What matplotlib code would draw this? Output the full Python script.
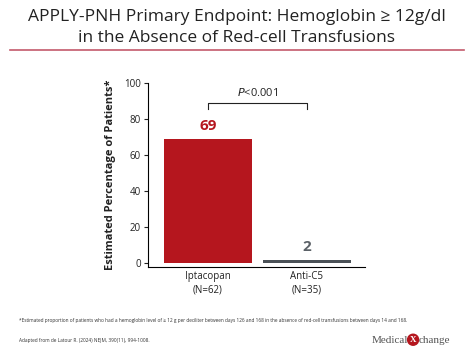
import matplotlib.pyplot as plt
import matplotlib.patches as mpatches

# data
groups = ['Iptacopan\n(N=62)', 'Anti-C5\n(N=35)']
values = [69, 2]
labels = ['69', '2']
colors = ['#b5161e', '#4b5157']
label_colors = ['#b5161e', '#5b6167']
yticks = [0, 20, 40, 60, 80, 100]

plt.rcParams['font.family'] = ['Open Sans', 'DejaVu Sans']

fig = plt.figure(figsize=(4.74, 3.55), dpi=100)

# title + rule
fig.text(0.5, 0.952, 'APPLY-PNH Primary Endpoint: Hemoglobin \u2265 12g/dl',
         ha='center', va='center', fontsize=12.5, color='#222222')
fig.text(0.5, 0.893, 'in the Absence of Red-cell Transfusions',
         ha='center', va='center', fontsize=12.5, color='#222222')
fig.add_artist(plt.Line2D([0.021, 0.979], [0.858, 0.858], color='#c45a6c', lw=1.2))

# axes: x 148..365 px, y 83..266.7 px
ax = fig.add_axes([148 / 474, 1 - 266.7 / 355, 217 / 474, (266.7 - 83) / 355])
x = range(len(values))
ax.bar(x, values, width=0.89, color=colors, zorder=2)
ax.set_xlim(-0.606, 1.586)
ax.set_ylim(-1.9, 100)
ax.set_yticks(yticks)
ax.set_xticks(list(x))
ax.set_xticklabels(groups, fontsize=7, color='#222222', linespacing=1.3)
ax.tick_params(axis='x', length=0, pad=3)
ax.tick_params(axis='y', labelsize=7, length=3, width=0.8, pad=2, colors='#222222')
for s in ['top', 'right']:
    ax.spines[s].set_visible(False)
ax.spines['left'].set_bounds(-1.9, 100)
ax.spines['left'].set_linewidth(0.8)
ax.spines['bottom'].set_linewidth(0.8)
ax.set_ylabel('Estimated Percentage of Patients*', fontsize=8, fontweight='bold',
              color='#222222', labelpad=6)

for i, (v, t) in enumerate(zip(values, labels)):
    ax.text(i, v + 3, t, ha='center', va='bottom', fontsize=11, fontweight='bold',
            color=label_colors[i])

# significance bracket
ax.plot([0, 0, 1, 1], [85.5, 89, 89, 85.5], color='#222222', lw=0.8, clip_on=False)
ax.text(0.5, 91, '$P$<0.001', ha='center', va='bottom', fontsize=8, color='#222222')

# footnotes
fig.text(0.04, 0.098, '*Estimated proportion of patients who had a hemoglobin level of \u2265 12 g per deciliter '
         'between days 126 and 168 in the absence of red-cell transfusions between days 14 and 168.',
         fontsize=3.4, color='#333333', va='center')
fig.text(0.04, 0.04, 'Adapted from de Latour R. (2024) NEJM, 390(11), 994-1008.',
         fontsize=3.4, color='#333333', va='center')

# logo
fig.text(0.861, 0.042, 'Medical', ha='right', va='center', family='Liberation Serif',
         fontsize=8, color='#555555')
fig.add_artist(mpatches.Ellipse((0.8715, 0.043), 11 / 474, 11 / 355,
                                transform=fig.transFigure, color='#b5161e'))
fig.text(0.8715, 0.042, 'X', ha='center', va='center', family='Liberation Serif',
         fontsize=6.5, color='white', fontweight='bold')
fig.text(0.883, 0.042, 'change', ha='left', va='center', family='Liberation Serif',
         fontsize=8, color='#555555')

fig.savefig('out.png', dpi=100, facecolor='white')
